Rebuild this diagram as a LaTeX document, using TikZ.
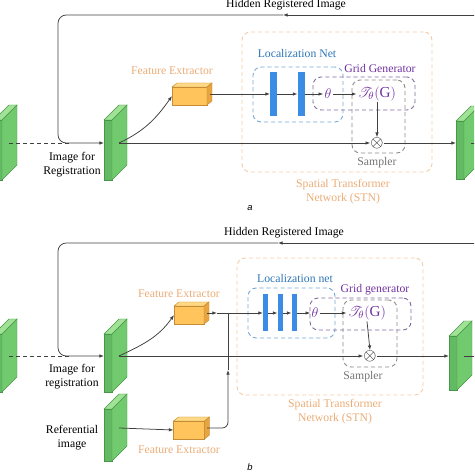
\documentclass[tikz,border=0pt]{standalone}
\usepackage{fontspec}
\setmainfont{Liberation Serif}
\setsansfont{Liberation Sans}
\usepackage{mathrsfs}
\usetikzlibrary{arrows.meta}

\definecolor{orangeT}{RGB}{234,172,118}
\definecolor{orangeB}{RGB}{244,204,166}
\definecolor{blueT}{RGB}{46,117,182}
\definecolor{blueB}{RGB}{120,168,214}
\definecolor{barblue}{RGB}{58,140,228}
\definecolor{purpleT}{RGB}{112,48,160}
\definecolor{purpleB}{RGB}{128,108,158}
\definecolor{grayT}{RGB}{115,115,115}
\definecolor{grayB}{RGB}{140,140,140}
\definecolor{slabfrontC}{RGB}{98,186,98}
\definecolor{slabsideC}{RGB}{114,202,110}
\definecolor{slabtopC}{RGB}{160,226,150}
\definecolor{slabedgeC}{RGB}{72,150,72}
\definecolor{feC}{RGB}{255,196,92}
\definecolor{fetopC}{RGB}{255,216,132}
\definecolor{fesideC}{RGB}{232,164,62}
\definecolor{feedgeC}{RGB}{196,140,52}

\newlength{\unitpx}
\setlength{\unitpx}{0.03cm}

\tikzset{
  line/.style={draw=black!75, line width=0.65pt},
  arr/.style={line, -{Latex[length=4pt,width=3pt]}},
  dashline/.style={line, dashed},
  slabfront/.style={draw=slabedgeC, fill=slabfrontC, line width=0.4pt, inner sep=0pt, outer sep=0pt, minimum width=8\unitpx},
  slabside/.style={draw=slabedgeC, fill=slabsideC, line width=0.4pt},
  slabtop/.style={draw=slabedgeC, fill=slabtopC, line width=0.4pt},
  febox/.style={draw=feedgeC, fill=feC, line width=0.4pt, inner sep=0pt, outer sep=0pt, minimum height=18\unitpx},
  fetop/.style={draw=feedgeC, fill=fetopC, line width=0.4pt},
  feside/.style={draw=feedgeC, fill=fesideC, line width=0.4pt},
  dbox/.style={dash pattern=on 3.5pt off 2.5pt, line width=0.8pt, rounded corners=7pt, inner sep=0pt},
  bar/.style={fill=barblue, inner sep=0pt, outer sep=0pt},
  mathlbl/.style={text=purpleT, inner sep=1pt, font=\fontsize{13}{14}\selectfont},
  otimes/.style={inner sep=0pt, font=\fontsize{14}{14}\selectfont},
}

\begin{document}
\begin{tikzpicture}[x=\unitpx, y=\unitpx, font=\fontsize{10}{12}\selectfont]
\useasboundingbox (0,0) rectangle (474,474);
\clip (0,0) rectangle (474,474);

% GLOBAL SETTINGS
\newcommand{\drawslab}[3]{% name, position, height
  \node[slabfront, minimum height=#3\unitpx] (#1) at #2 {};
  \filldraw[slabside] (#1.north east) -- ++(15,15) -- ++(0,-#3) -- (#1.south east) -- cycle;
  \filldraw[slabtop] (#1.north west) -- ++(15,15) -- ++(8,0) -- (#1.north east) -- cycle;
  \path (#1.east) ++(7,7) coordinate (#1-o);
  \path (#1.west) ++(0,7) coordinate (#1-i);
}
\newcommand{\drawfe}[3]{% name, position, width
  \node[febox, minimum width=#3\unitpx] (#1) at #2 {};
  \filldraw[fetop] (#1.north west) -- ++(5,4) -- ++(#3,0) -- (#1.north east) -- cycle;
  \filldraw[feside] (#1.north east) -- ++(5,4) -- ++(0,-18) -- (#1.south east) -- cycle;
  \path (#1.east) ++(2.5,2) coordinate (#1-o);
}

% PANEL A
\node[dbox, draw=orangeB, minimum width=190\unitpx, minimum height=140\unitpx] (STNa) at (337,372) {};
\node[dbox, draw=blueB, minimum width=90\unitpx, minimum height=55\unitpx] (LOCa) at (298,379.5) {};
\node[dbox, draw=purpleB, minimum width=102\unitpx, minimum height=33\unitpx] (GRIDa) at (364,380.5) {};
\node[dbox, draw=grayB, minimum width=53\unitpx, minimum height=73\unitpx] (SAMPa) at (378.5,357.5) {};

\node[text=orangeT, align=center] (STNaL) at (343,282.5) {Spatial Transformer\\Network (STN)};
\node[text=blueT] (LOCaL) at (297,421) {Localization Net};
\node[text=purpleT] (GRIDaL) at (380,406) {Grid Generator};
\node[text=grayT] (SAMPaL) at (377,311) {Sampler};
\node[text=orangeT] (FEaL) at (172,403) {Feature Extractor};
\node (HIDaL) at (286,469) {Hidden Registered Image};
\node[align=center] (IMGaL) at (72,309) {Image for\\Registration};
\node[font=\sffamily\itshape\footnotesize] (TAGa) at (250,266) {a};

\drawslab{S0a}{(-2,324)}{60}
\drawslab{S2a}{(108,324)}{60}
\drawslab{S3a}{(460,324)}{58}
\drawfe{FEa}{(189.5,378)}{35}

\foreach \i/\x in {1/273.5, 2/301} {
  \node[bar, minimum width=7\unitpx, minimum height=44\unitpx] (Ba\i) at (\x,380) {};
}
\node[mathlbl] (THa) at (328,380) {$\theta$};
\node[mathlbl] (TFa) at (377,380) {$\mathscr{T}_{\theta}(\mathrm{G})$};
\node[otimes] (OTa) at (377,331) {$\otimes$};

\coordinate (Ma) at (72,331);
\coordinate (Ca) at (58,331);
\coordinate (Ha) at (283,459);

% EDGES A
\draw[dashline] (S0a-o) -- (Ma);
\draw[arr] (S3a-o) -- ++(40,0) |- (Ha);
\draw[arr, rounded corners=7pt] (Ha) -| (Ca) -- (S2a-i);
\draw[arr] (S2a-o) to[out=25, in=235] (FEa.west);
\draw[arr] (FEa-o) -- (Ba1.west);
\draw[arr] (Ba1.east) -- (Ba2.west);
\draw[arr] (Ba2.east) -- (THa.west);
\draw[arr] (THa.east) -- (TFa.west);
\draw[arr] (TFa.south) -- (OTa.north);
\draw[arr] (S2a-o) -- (OTa.west);
\draw[arr] (OTa.east) -- (S3a-i);

% PANEL B
\node[dbox, draw=orangeB, minimum width=186\unitpx, minimum height=137\unitpx] (STNb) at (330,147.5) {};
\node[dbox, draw=blueB, minimum width=87\unitpx, minimum height=50\unitpx] (LOCb) at (291.5,161) {};
\node[dbox, draw=purpleB, minimum width=101\unitpx, minimum height=32\unitpx] (GRIDb) at (360.5,160) {};
\node[dbox, draw=grayB, minimum width=54\unitpx, minimum height=67\unitpx] (SAMPb) at (370,140.5) {};

\node[text=orangeT, align=center] (STNbL) at (335,62.5) {Spatial Transformer\\Network (STN)};
\node[text=blueT] (LOCbL) at (295,196) {Localization net};
\node[text=purpleT] (GRIDbL) at (375,184) {Grid generator};
\node[text=grayT] (SAMPbL) at (363,97) {Sampler};
\node[text=orangeT] (FEb1L) at (179,180) {Feature Extractor};
\node[text=orangeT] (FEb2L) at (179,24) {Feature Extractor};
\node (HIDbL) at (284,241) {Hidden Registered Image};
\node[align=center] (IMGbL) at (72,97) {Image for\\registration};
\node[align=center] (REFbL) at (72,36.5) {Referential\\image};
\node[font=\sffamily\itshape\footnotesize] (TAGb) at (250,7) {b};

\drawslab{S0b}{(-2,111)}{58}
\drawslab{S2b}{(108,111)}{58}
\drawslab{S3b}{(453,111)}{54}
\drawslab{RFb}{(108,39)}{52}
\drawfe{FEb1}{(189,159)}{30}
\drawfe{FEb2}{(189,44)}{31}

\foreach \i/\x in {1/265.5, 2/280, 3/294} {
  \node[bar, minimum width=5\unitpx, minimum height=37\unitpx] (Bb\i) at (\x,161) {};
}
\node[mathlbl] (THb) at (315,161) {$\theta$};
\node[mathlbl] (TFb) at (367,161) {$\mathscr{T}_{\theta}(\mathrm{G})$};
\node[otimes] (OTb) at (370,118) {$\otimes$};

\coordinate (Mb) at (72,118);
\coordinate (Cb) at (58,118);
\coordinate (Hb) at (278,231);
\coordinate (Kb) at (217,161);
\coordinate (Jb) at (228,161);
\coordinate (Ub) at (228,104);

% EDGES B
\draw[dashline] (S0b-o) -- (Mb);
\draw[arr] (S3b-o) -- ++(40,0) |- (Hb);
\draw[arr, rounded corners=7pt] (Hb) -| (Cb) -- (S2b-i);
\draw[arr] (S2b-o) to[out=25, in=235] (FEb1.west);
\draw[arr] (FEb1-o) -- (Kb);
\draw[line] (Kb) -- (Jb);
\draw[arr] (Jb) -- (Bb1.west);
\draw[arr] (Bb1.east) -- (Bb2.west);
\draw[arr] (Bb2.east) -- (Bb3.west);
\draw[arr] (Bb3.east) -- (THb.west);
\draw[arr] (THb.east) -- (TFb.west);
\draw[arr] (TFb.south) -- (OTb.north);
\draw[arr] (S2b-o) -- (OTb.west);
\draw[arr] (OTb.east) -- (S3b-i);
\draw[arr] (RFb-o) -- (FEb2.west);
\draw[arr, rounded corners=5pt] (FEb2-o) -| (Ub);
\draw[line] (Ub) -- (Jb);

\end{tikzpicture}
\end{document}
